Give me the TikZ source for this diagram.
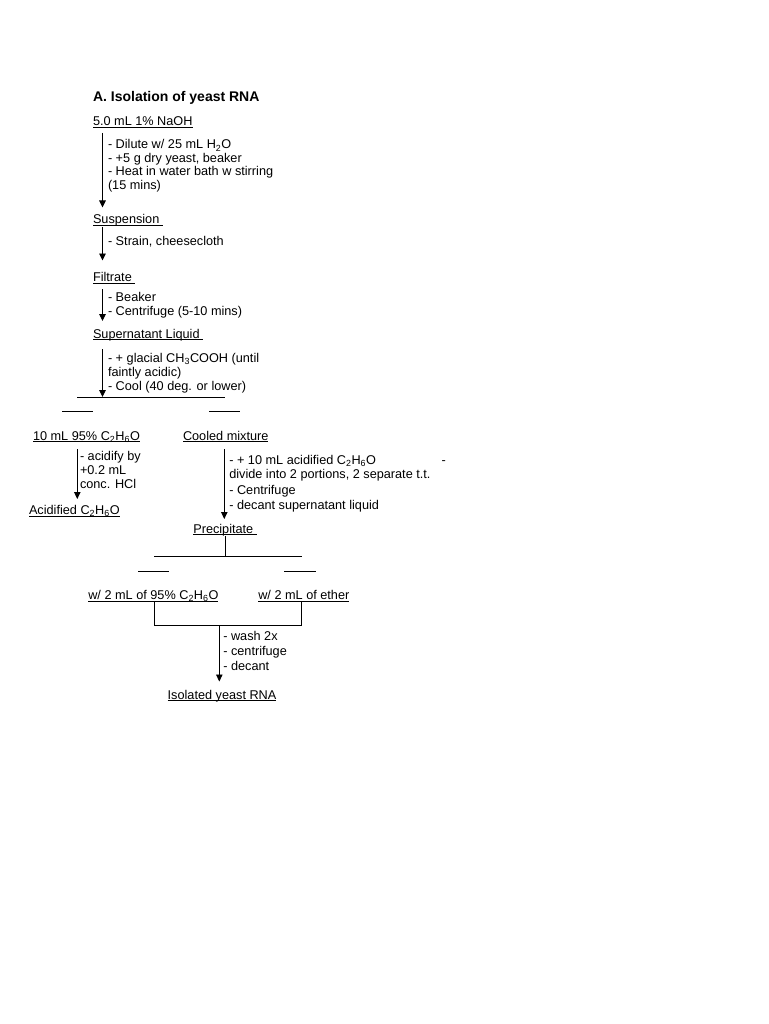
\documentclass[tikz,border=0pt]{standalone}
\usepackage{fontspec}
\setmainfont{Liberation Sans}
\usetikzlibrary{arrows.meta,calc}
\newcommand\ulx[1]{\sbox0{#1}\rlap{\rule[-2.2pt]{\wd0}{0.8pt}}\usebox0}
\begin{document}
\begin{tikzpicture}[x=1pt,y=-1pt,
  txt/.style={anchor=base west,inner sep=0pt,outer sep=0pt,font=\fontsize{12.7}{15}\selectfont},
  ttl/.style={anchor=base west,inner sep=0pt,outer sep=0pt,font=\fontsize{14}{16}\selectfont\bfseries},
  ln/.style={line width=0.9pt},
  arr/.style={line width=0.9pt,-{Triangle[width=6.5pt,length=7pt]}}]
\useasboundingbox (0,0) rectangle (768,1024);
\fill[white] (0,0) rectangle (768,1024);

% title
\node[ttl] (title) at (93,102) {A. Isolation of yeast RNA};

% main column
\node[txt] (naoh) at (93,126) {\ulx{5.0 mL 1\% NaOH}};
\node[txt] (s1a) at (108,149) {- Dilute w/ 25 mL H\textsubscript{2}O};
\node[txt] (s1b) at (108,162.5) {- +5 g dry yeast, beaker};
\node[txt] (s1c) at (108,176) {- Heat in water bath w stirring};
\node[txt] (s1d) at (108,189.3) {(15 mins)};
\node[txt] (susp) at (93,224) {\ulx{Suspension\ }};
\node[txt] (s2a) at (108,245.5) {- Strain, cheesecloth};
\node[txt] (filt) at (93,281.5) {\ulx{Filtrate\ }};
\node[txt] (s3a) at (108,301) {- Beaker};
\node[txt] (s3b) at (108,315) {- Centrifuge (5-10 mins)};
\node[txt] (sup) at (93,338) {\ulx{Supernatant Liquid\ }};
\node[txt] (s4a) at (108,362.5) {- + glacial CH\textsubscript{3}COOH (until};
\node[txt] (s4b) at (108,376.5) {faintly acidic)};
\node[txt] (s4c) at (108,390.3) {- Cool (40 deg. or lower)};

\draw[arr] ([shift={(9.5,7)}]naoh.base west) -- ([shift={(9.5,-16.5)}]susp.base west);
\draw[arr] ([shift={(9.5,3)}]susp.base west) -- ([shift={(9.5,-21)}]filt.base west);
\draw[arr] ([shift={(9.5,7.5)}]filt.base west) -- ([shift={(9.5,-17)}]sup.base west);
\coordinate (j1) at (102.5,397);
\coordinate (h1l) at (77,397);
\coordinate (h1r) at (225,397);
\draw[arr] ([shift={(9.5,11)}]sup.base west) -- (j1);
\draw[ln] (h1l) -- (h1r);
\draw[ln] (62,411.5) -- (93,411.5);
\draw[ln] (209,411.5) -- (240,411.5);

% left branch
\node[txt] (eth) at (33,440) {\ulx{10 mL 95\% C\textsubscript{2}H\textsubscript{6}O}};
\node[txt] (l1) at (80,460) {- acidify by};
\node[txt] (l2) at (80,474) {+0.2 mL};
\node[txt] (l3) at (80,488) {conc. HCl};
\node[txt] (acid) at (29,514.5) {\ulx{Acidified C\textsubscript{2}H\textsubscript{6}O}};
\draw[arr] ([shift={(44.3,9)}]eth.base west) -- ([shift={(48.3,-15.5)}]acid.base west);

% right branch
\node[txt] (cool) at (183,440) {\ulx{Cooled mixture}};
\node[txt] (r1) at (229.3,464) {- + 10 mL acidified C\textsubscript{2}H\textsubscript{6}O};
\node[txt] (r1d) at (441.5,464) {-};
\node[txt] (r2) at (229.3,478.5) {divide into 2 portions, 2 separate t.t.};
\node[txt] (r3) at (229.3,494) {- Centrifuge};
\node[txt] (r4) at (229.3,509) {- decant supernatant liquid};
\node[txt] (prec) at (193.3,533) {\ulx{Precipitate\ }};
\draw[arr] ([shift={(41.3,9)}]cool.base west) -- ([shift={(31,-14)}]prec.base west);

% split of precipitate
\coordinate (j2) at (225.7,556.7);
\coordinate (h2l) at (154,556.7);
\coordinate (h2r) at (301.7,556.7);
\draw[ln] ([shift={(32.4,3)}]prec.base west) -- (j2);
\draw[ln] (h2l) -- (h2r);
\draw[ln] (138.3,571) -- (169.3,571);
\draw[ln] (284.3,571) -- (315.7,571);

\node[txt] (w95) at (88.3,599.5) {\ulx{w/ 2 mL of 95\% C\textsubscript{2}H\textsubscript{6}O}};
\node[txt] (weth) at (258.3,599.5) {\ulx{w/ 2 mL of ether}};

% bracket joining both washes
\coordinate (bl) at ([shift={(65.7,2)}]w95.base west);
\coordinate (br) at ([shift={(43.4,2)}]weth.base west);
\coordinate (brk) at (219.3,625.3);
\draw[ln] (bl) -- (bl |- brk) -- (br |- brk) -- (br);

\node[txt] (f1) at (223.3,640.3) {- wash 2x};
\node[txt] (f2) at (223.3,655) {- centrifuge};
\node[txt] (f3) at (223.3,670) {- decant};
\node[txt] (iso) at (167.7,699) {\ulx{Isolated yeast RNA}};
\draw[arr] (brk) -- ([shift={(51.6,-17.5)}]iso.base west);
\end{tikzpicture}
\end{document}
